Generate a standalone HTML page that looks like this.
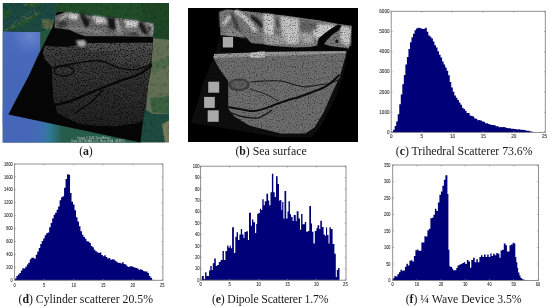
<!DOCTYPE html>
<html><head><meta charset="utf-8"><style>
html,body{margin:0;padding:0;background:#fff;}
body{width:550px;height:307px;overflow:hidden;}
svg{display:block;}
.cap{font-family:"Liberation Serif",serif;font-size:11.8px;fill:#1a1a1a;}
.tk{font-family:"Liberation Sans",sans-serif;fill:#2a2a2a;stroke:#2a2a2a;stroke-width:0.08px;}
</style></head><body>
<svg width="550" height="307" viewBox="0 0 550 307">
<defs>
  
  <filter id="spk2" x="0" y="0" width="100%" height="100%" color-interpolation-filters="sRGB">
    <feTurbulence type="fractalNoise" baseFrequency="0.83" numOctaves="2" seed="11" result="t0"/>
    <feColorMatrix in="t0" type="matrix" values="1.6 0 0 0 0.2  1.6 0 0 0 0.2  1.6 0 0 0 0.2  0 0 0 0 1" result="n"/>
    <feComposite in="SourceGraphic" in2="n" operator="arithmetic" k1="1" k2="0" k3="0" k4="0"/>
    <feGaussianBlur stdDeviation="0.5"/>
  </filter>
  <filter id="spkA" x="0" y="0" width="100%" height="100%" color-interpolation-filters="sRGB">
    <feTurbulence type="fractalNoise" baseFrequency="0.83" numOctaves="2" seed="7" result="t0"/>
    <feColorMatrix in="t0" type="matrix" values="1 0 0 0 0  1 0 0 0 0  1 0 0 0 0  0 0 0 0 1" result="t"/>
    <feComponentTransfer in="t" result="n"><feFuncR type="gamma" amplitude="3.8" exponent="2" offset="0"/><feFuncG type="gamma" amplitude="3.8" exponent="2" offset="0"/><feFuncB type="gamma" amplitude="3.8" exponent="2" offset="0"/></feComponentTransfer>
    <feComposite in="SourceGraphic" in2="n" operator="arithmetic" k1="1" k2="0" k3="0" k4="0"/>
    <feGaussianBlur stdDeviation="0.55"/>
  </filter>
  <filter id="bl1" x="-10%" y="-10%" width="120%" height="120%"><feGaussianBlur stdDeviation="0.9"/></filter>
  <linearGradient id="landA" x1="0" y1="0" x2="0" y2="1">
    <stop offset="0" stop-color="#434343"/><stop offset="0.35" stop-color="#363636"/><stop offset="1" stop-color="#232323"/>
  </linearGradient>
  <filter id="spkM" x="0" y="0" width="100%" height="100%" color-interpolation-filters="sRGB">
    <feTurbulence type="fractalNoise" baseFrequency="0.83" numOctaves="2" seed="5" result="t0"/>
    <feColorMatrix in="t0" type="matrix" values="1.6 0 0 0 0.2  1.6 0 0 0 0.2  1.6 0 0 0 0.2  0 0 0 0 1" result="n"/>
    <feComposite in="SourceGraphic" in2="n" operator="arithmetic" k1="1" k2="0" k3="0" k4="0"/>
    <feGaussianBlur stdDeviation="0.5"/>
  </filter>
  <filter id="gn" x="0" y="0" width="100%" height="100%" color-interpolation-filters="sRGB">
    <feTurbulence type="fractalNoise" baseFrequency="0.3" numOctaves="3" seed="2" result="t"/>
    <feColorMatrix in="t" type="matrix" values="0.6 0 0 0 0.7  0.6 0 0 0 0.7  0.6 0 0 0 0.7  0 0 0 0 1" result="n"/>
    <feComposite in="SourceGraphic" in2="n" operator="arithmetic" k1="1.0" k2="0" k3="0" k4="0" result="c"/>
    <feGaussianBlur in="c" stdDeviation="0.7"/>
  </filter>
  <clipPath id="ca"><rect x="2.5" y="3" width="166.5" height="139.5"/></clipPath>
  <clipPath id="cb"><rect x="188" y="8" width="170" height="134"/></clipPath>
</defs>

<!-- ============ (a) ============ -->
<g clip-path="url(#ca)">
 <g filter="url(#gn)">
  <rect x="2.5" y="3" width="167" height="140" fill="#1c4842"/>
  <!-- islands top -->
  <path d="M3 29.4 L10 27 L20 22 L30 16 L39.6 11.1 L41 13 L34 19 L24 25 L14 29 L5 31 L3 31 Z" fill="#23502d"/>
  <path d="M24.8 3 L39.6 3 L39 7.7 L30 7.5 Z" fill="#23502d"/>
  <path d="M3 12 L9 9 L12 13 L6 18 L3 18 Z" fill="#24502f"/>
  <path d="M42 20 L48 18.5 L54.5 21 L54.5 29.4 L46 29.4 L42 25 Z" fill="#4a6040"/>
  <path d="M55.6 2 L62 2 L62 13.4 L56 14 Z" fill="#214d29"/>
  <g fill="#8f8862" opacity="0.45"><circle cx="12.7" cy="25.9" r="0.74"/><circle cx="25.5" cy="17.3" r="0.83"/><circle cx="12.7" cy="27.0" r="0.69"/><circle cx="34.1" cy="14.6" r="0.56"/><circle cx="27.7" cy="18.4" r="0.80"/><circle cx="27.1" cy="18.2" r="0.74"/><circle cx="13.7" cy="25.9" r="0.69"/><circle cx="30.8" cy="17.1" r="0.87"/><circle cx="18.9" cy="23.0" r="0.87"/><circle cx="34.7" cy="12.5" r="0.59"/><circle cx="38.6" cy="12.0" r="0.62"/><circle cx="22.0" cy="20.5" r="0.73"/><circle cx="26.0" cy="19.8" r="0.87"/><circle cx="36.0" cy="14.3" r="0.57"/><circle cx="36.1" cy="14.8" r="0.73"/><circle cx="29.0" cy="17.5" r="0.73"/><circle cx="13.2" cy="26.2" r="0.90"/><circle cx="7.9" cy="29.0" r="0.56"/><circle cx="15.2" cy="26.0" r="0.52"/><circle cx="25.0" cy="19.2" r="0.63"/><circle cx="36.9" cy="13.4" r="0.90"/><circle cx="14.1" cy="25.0" r="0.51"/><circle cx="10.9" cy="27.3" r="0.56"/><circle cx="6.4" cy="29.7" r="0.88"/><circle cx="36.0" cy="13.0" r="0.71"/><circle cx="27.4" cy="18.3" r="0.75"/><circle cx="34.2" cy="10.8" r="0.79"/><circle cx="12.7" cy="24.1" r="0.71"/><circle cx="21.3" cy="17.5" r="0.73"/><circle cx="6.9" cy="27.0" r="0.52"/><circle cx="24.7" cy="16.8" r="0.64"/><circle cx="27.8" cy="13.8" r="0.52"/><circle cx="27.4" cy="14.9" r="0.68"/><circle cx="23.3" cy="16.6" r="0.63"/><circle cx="17.3" cy="20.2" r="0.65"/><circle cx="28.0" cy="14.0" r="0.79"/><circle cx="14.6" cy="22.5" r="0.60"/><circle cx="11.5" cy="24.3" r="0.54"/><circle cx="15.3" cy="22.3" r="0.68"/><circle cx="30.9" cy="12.1" r="0.76"/><circle cx="38.0" cy="3.3" r="0.55"/><circle cx="31.7" cy="4.7" r="0.84"/><circle cx="26.4" cy="4.7" r="0.76"/><circle cx="36.5" cy="3.1" r="0.62"/><circle cx="36.2" cy="3.6" r="0.67"/><circle cx="30.5" cy="5.0" r="0.56"/><circle cx="25.1" cy="4.9" r="0.89"/><circle cx="32.0" cy="5.0" r="0.59"/><circle cx="51.7" cy="28.2" r="0.83"/><circle cx="48.7" cy="22.2" r="0.67"/><circle cx="45.0" cy="19.7" r="0.79"/><circle cx="45.7" cy="27.9" r="0.52"/><circle cx="53.7" cy="26.6" r="0.96"/><circle cx="53.7" cy="28.9" r="0.79"/><circle cx="42.2" cy="27.2" r="0.59"/><circle cx="45.9" cy="26.3" r="0.76"/><circle cx="47.4" cy="29.3" r="0.81"/><circle cx="46.4" cy="21.8" r="0.93"/><circle cx="48.2" cy="27.6" r="0.68"/><circle cx="44.6" cy="24.9" r="0.91"/><circle cx="44.2" cy="27.7" r="0.96"/><circle cx="52.5" cy="28.1" r="0.50"/><circle cx="50.2" cy="28.5" r="0.52"/><circle cx="45.5" cy="22.0" r="0.76"/><circle cx="47.5" cy="24.2" r="0.89"/><circle cx="42.0" cy="19.6" r="0.56"/><circle cx="43.6" cy="19.8" r="0.99"/><circle cx="53.1" cy="19.9" r="0.75"/><circle cx="46.1" cy="22.5" r="0.68"/><circle cx="50.4" cy="25.5" r="0.68"/><circle cx="44.5" cy="22.6" r="0.56"/><circle cx="49.2" cy="26.9" r="0.69"/><circle cx="43.0" cy="21.0" r="0.69"/><circle cx="49.9" cy="27.6" r="0.69"/><circle cx="52.4" cy="25.9" r="0.72"/><circle cx="46.8" cy="24.5" r="0.85"/><circle cx="47.5" cy="26.6" r="0.73"/><circle cx="45.2" cy="24.9" r="0.85"/><circle cx="103.6" cy="7.7" r="0.57"/><circle cx="144.0" cy="13.3" r="0.55"/><circle cx="144.9" cy="11.7" r="0.50"/><circle cx="123.2" cy="4.4" r="0.73"/><circle cx="133.1" cy="12.8" r="0.72"/><circle cx="133.4" cy="11.1" r="0.63"/><circle cx="105.2" cy="9.5" r="0.40"/><circle cx="107.2" cy="11.5" r="0.42"/><circle cx="104.6" cy="4.1" r="0.75"/><circle cx="109.0" cy="3.3" r="0.74"/><circle cx="106.1" cy="12.3" r="0.67"/><circle cx="141.8" cy="13.5" r="0.63"/><circle cx="139.9" cy="3.4" r="0.71"/><circle cx="125.6" cy="10.9" r="0.44"/></g>
  <!-- top forest -->
  <polygon points="56,3 170,3 170,24 150,23 104,16 80,14 65,12 56,14" fill="#214d29"/>
  <polygon points="140,3 170,3 170,40 150,38" fill="#1d4526"/>
  <!-- right urban -->
  <polygon points="152,38 170,40 170,118 160,118 146,110" fill="#637055"/>
  <polygon points="152,62 170,56 170,66 152,72" fill="#4f6a48"/>
  <polygon points="150,98 170,96 170,114 152,112" fill="#3c6042"/>
  <!-- bottom right water -->
  <polygon points="143,114 170,114 170,143 140,143" fill="#1e4b40"/>
  <polygon points="162,124 170,120 170,143 165,143" fill="#7a7a5c"/>
 </g>
  <!-- blue water -->
  <linearGradient id="bw" x1="0" y1="0" x2="0" y2="1">
    <stop offset="0" stop-color="#4b6cbe"/><stop offset="0.5" stop-color="#4667b9"/><stop offset="1" stop-color="#4666b8"/>
  </linearGradient>
  <polygon points="2.5,31.5 20,32 40.5,32 40.5,50 36.3,58.9 29.3,75 2.5,125" fill="url(#bw)"/>
  <radialGradient id="bl" cx="30" cy="36" r="18" gradientUnits="userSpaceOnUse"><stop offset="0" stop-color="#7d97d6" stop-opacity="0.55"/><stop offset="1" stop-color="#7d97d6" stop-opacity="0"/></radialGradient>
  <polygon points="2.5,31.5 20,32 40.5,32 40.5,50 36.3,58.9 29.3,75 2.5,125" fill="url(#bl)"/>
  <linearGradient id="bs" gradientUnits="userSpaceOnUse" x1="30" y1="0" x2="62" y2="0">
    <stop offset="0" stop-color="#4666b8"/><stop offset="0.4" stop-color="#3f6fb0"/><stop offset="0.62" stop-color="#2e7a96"/><stop offset="1" stop-color="#285c4a"/>
  </linearGradient>
  <polygon points="2.5,110 20,110 60,124 141,141 141,143 2.5,143" fill="url(#bs)"/>
  <!-- green strip between blue water and quad -->
  <polygon points="40.5,32 54,28 52.6,26.9 45.2,41.6 36.7,58.7 29.3,75 36.3,58.9 40.5,50" fill="#24553f"/>
  <!-- SAR quad -->
  <polygon points="56.7,12.2 65.5,11.8 80,14 100,17 120,18 140,21 153.3,23 152.5,45 151,70 148.5,82 142.3,126 140.5,142.5 8.4,114.5 29.3,75 36.7,58.7 45.2,41.6 52.6,26.9" fill="#050505"/>
  <g filter="url(#spkM)">
    <rect x="0" y="0" width="1" height="1" fill="#000"/>
    <!-- mountains -->
    <polygon points="55,16 65.5,11.8 80,14 100,17 120,18 140,21 153.3,23 153,37 120,36.6 100,36.6 86,36.6 76,33 70,30 60,30 54.5,28" fill="#6c6c6c"/>
    <g filter="url(#bl1)">
      <polygon points="68,12.8 78.6,14 78,19.5 71,20 68,17" fill="#d0d0d0"/>
      <path d="M57.6 22.3 L67.2 13.7" stroke="#c8c8c8" stroke-width="2.2"/>
      <polygon points="92,15.6 104,17 107,23 96,24" fill="#cacaca"/>
      <path d="M117 20 L120 34" stroke="#b8b8b8" stroke-width="2.5"/>
      <polygon points="124.4,19.5 139.7,21.2 137,27 126,27.5" fill="#d4d4d4"/>
      <path d="M147 24 L153 26 L152 34" stroke="#bdbdbd" stroke-width="2"/>
      <path d="M80 14 L88 22 L86 28" stroke="#141414" stroke-width="3.2"/>
      
      <polygon points="107,17.5 115,18.5 116,30 109,29" fill="#141414"/>
      <path d="M139 22 L143 28 L146 35" stroke="#121212" stroke-width="4.5"/>
      <polygon points="56,21 64,20 68,25 60,28" fill="#383838"/>
      <path d="M70 28 L90 30 L104 33" stroke="#8e8e8e" stroke-width="2.5"/>
      <path d="M115 32 L135 31 L145 36" stroke="#888" stroke-width="2.5"/>
    </g>
  </g>
  <g filter="url(#spkA)">
    <rect x="0" y="0" width="1" height="1" fill="#000"/>
    <!-- land -->
    <polygon points="44.6,45.5 57,46.6 68.5,46.6 76.4,45 88,43 153,42.4 152.5,45 151,70 148.5,82 145.6,107.4 143,120 138,123 120,126 100,126 80,124 69.3,119.2 57.6,113.3 53.2,98.7 51.7,66.4 48,63 44,58 43,52" fill="url(#landA)"/>
    <polygon points="88,43 152.5,42.4 152.5,50 88,51" fill="#505050"/>
    <polygon points="113,50 152.5,50 151,66 113,62" fill="#454545"/>
      </g>
  <!-- inlet / rivers -->
  <polygon points="54.5,28 60,28.5 70,30 77.6,35.3 86,36.6 100,36.6 120,36.6 153,37 153,42.4 120,42.4 100,42.6 88,43 76.4,45 68.5,46.6 57,46.6 44.6,45.5 50,38" fill="#070707"/>
  <polygon filter="url(#bl1)" points="76,40.5 84,39.8 86.7,43 84,47.2 78,46" fill="#a8a8a8"/>
  <path d="M51.7 67.9 C60 66 68 64 75.2 63.5 C85 62 92 60.5 98.7 60.5 C107 62 113 66 119.2 67.9 C126 69.5 131 70 136.8 69.3 C143 68 148 66 151.4 63.5" stroke="#090909" stroke-width="1.3" fill="none"/>
  <path d="M50 106.5 C56 105 63 103 69.3 101.6 C76 99 82 96.5 87 94.3 C93 91.5 99 89 104.5 87 C110 85 115 83 119.2 81 C125 79 131 77.5 136.8 75.2 C141 73.5 145 71 148.5 67.9 C150 66.5 151 65.5 152 65" stroke="#070707" stroke-width="2.3" fill="none"/>
  <path d="M75.2 113.3 C80 110 85 106 89.9 103 C95 99 99 94 103 89.9" stroke="#080808" stroke-width="1.4" fill="none"/>
  <ellipse cx="64" cy="71" rx="10" ry="5" fill="none" stroke="#0a0a0a" stroke-width="1.3"/>
  <!-- watermark text -->
  <text x="77.6" y="138.8" font-family="Liberation Sans,sans-serif" font-size="2.8" fill="#c8c8c8" textLength="33" lengthAdjust="spacingAndGlyphs">Image © 2016 TerraMetrics</text>
  <text x="71.3" y="142.4" font-family="Liberation Sans,sans-serif" font-size="2.8" fill="#c8c8c8" textLength="53.4" lengthAdjust="spacingAndGlyphs">Data SIO, NOAA, U.S. Navy, NGA, GEBCO</text>
</g>

<!-- ============ (b) ============ -->
<g clip-path="url(#cb)">
  <rect x="188" y="8" width="170" height="134" fill="#000"/>
  <g filter="url(#spk2)">
    <rect x="188" y="8" width="1" height="1" fill="#000"/>
    <!-- SAR footprint (dark gray water) -->
    <polygon points="219.5,12.1 226.4,9.4 237.3,10.2 278.2,14.8 319,20.3 351.8,25.7 349,46 344,71.8 336,96.4 321,126 311.6,137 280,137.5 191,122.8 204.3,80 215.7,52.8 221.4,30" fill="#0e0e0e"/>
    <!-- mountains -->
    <polygon points="219.5,12.1 226.4,9.4 237.3,10.2 278.2,14.8 319,20.3 338.2,23.9 351.8,25.7 350.8,37 348.7,49.8 330,50 300,49 270,48 252,44 246.5,38 238,35.4 220.5,35.4" fill="#787878"/>
    <g filter="url(#bl1)">
      <polygon points="219.5,12 231,10.5 232,20 226,27 220,27" fill="#7a7a7a"/>
      <path d="M223.2 24.4 L230 16.2" stroke="#e0e0e0" stroke-width="2.4"/>
      <path d="M231.4 13.5 L235 22 L239.6 34" stroke="#353535" stroke-width="3.2"/>
      <path d="M235.5 10.7 L244 17 L250.6 24.4 L256 31.3" stroke="#d8d8d8" stroke-width="3.5"/>
      <path d="M251.2 16.2 L257 21 L263 27.1" stroke="#080808" stroke-width="3.2"/>
      <polygon points="263,13.5 274,15 274,35.4 264,34" fill="#c8c8c8"/>
      <path d="M276 19 L279 27" stroke="#333" stroke-width="2"/>
      <polygon points="280,16 299,19 299,44 288,44 282,35" fill="#c4c4c4"/>
      <polygon points="313,24 336,25 330,34 318,40 313,36" fill="#cccccc"/>
      <polygon points="341,26 350.8,27.4 350.5,46 342,44 340,36" fill="#c8c8c8"/>
      <polygon points="299,20.4 317,22.5 317,30.2 300,30" fill="#666"/>
      <polygon points="225,29 238,30 244,38 232,38 225,35" fill="#8a8a8a"/>
      <polygon points="262,35 284,36 288,44 266,45" fill="#9c9c9c"/>
      <polygon points="300,32 312,34 314,44 302,44" fill="#a8a8a8"/>
    </g>
    <!-- land -->
    <polygon points="212.7,56.2 230,54 250,52.8 265,51.6 280,51.4 320,51.2 346.8,49.5 345.6,56.2 339.5,77.8 333.3,90.2 324,111.8 314.7,127.3 305.5,133.5 280.7,133.5 249.8,125.7 234.4,116.5 228.2,108.7 228.2,81 219,68.5" fill="#6e6e6e"/>
    <polygon points="214,54 250,52.5 300,51.5 346,49.5 346,53 300,55 250,56.5 214,58" fill="#9a9a9a"/>
    <polygon points="250,50 265,50 265,57.7 250,57.7" fill="#bbbbbb"/>
    <ellipse cx="239" cy="84.7" rx="11" ry="6.5" fill="#444"/>
    <ellipse cx="239" cy="84.7" rx="8" ry="4" fill="#5e5e5e"/>
  </g>
  <!-- black inlet -->
  <polygon points="220,35.4 238,36.7 252,43.3 260,43.7 270,45.5 280,46.6 295,47.6 310,47 317.2,45.5 318.6,38.6 325,33 332,28 338.2,24.6 341.5,25.5 339,30 332,35 326,41 324,44 330,46 348.7,48.5 348.7,51 320,51.3 295,51.3 280,51.3 260,51.5 251,52.5 221,52" fill="#070707"/>
  <polygon points="335.4,40 338.2,40 338.2,42.8 335.4,42.8" fill="#111"/>
  <path d="M250 82 C262 81 272 80 281 81 C292 83 298 87 306 87 C315 86 322 84 327 84 C334 82 339 80 342.5 77.8" stroke="#151515" stroke-width="1.1" fill="none"/>
  <path d="M219 106 C228 107 240 109 250 111 C258 112 266 108 274 105 C282 102 290 99 296 98 C305 95 312 92 318 90 C326 87 331 83 333 81 C336 78 338 76 339.5 74.7" stroke="#0c0c0c" stroke-width="2" fill="none"/>
  <path d="M226 111 C236 115 246 119 258 118 C264 116 268 113 272 110" stroke="#101010" stroke-width="1.2" fill="none"/>
  <path d="M250 89 C262 92 270 96 278 101" stroke="#1a1a1a" stroke-width="0.9" fill="none"/>
  <rect x="222.8" y="36.9" width="10.3" height="10.6" fill="#a9a9a9"/>
  <rect x="208.2" y="81.7" width="11" height="11" fill="#a9a9a9"/>
  <rect x="204.1" y="96.9" width="10.7" height="11" fill="#a9a9a9"/>
  <rect x="207.7" y="110.3" width="11" height="11.5" fill="#a9a9a9"/>
</g>

<path d="M391.60 132.40 L391.60 131.73 L393.13 131.73 L393.13 129.83 L394.66 129.83 L394.66 126.00 L396.19 126.00 L396.19 121.60 L397.72 121.60 L397.72 114.37 L399.25 114.37 L399.25 104.26 L400.78 104.26 L400.78 94.57 L402.31 94.57 L402.31 84.35 L403.84 84.35 L403.84 74.98 L405.37 74.98 L405.37 64.60 L406.90 64.60 L406.90 57.02 L408.43 57.02 L408.43 49.00 L409.96 49.00 L409.96 42.36 L411.49 42.36 L411.49 37.23 L413.02 37.23 L413.02 33.76 L414.55 33.76 L414.55 30.16 L416.08 30.16 L416.08 28.55 L417.61 28.55 L417.61 27.77 L419.14 27.77 L419.14 28.08 L420.67 28.08 L420.67 28.51 L422.20 28.51 L422.20 28.99 L423.73 28.99 L423.73 28.83 L425.26 28.83 L425.26 27.70 L426.79 27.70 L426.79 31.81 L428.32 31.81 L428.32 35.42 L429.85 35.42 L429.85 36.74 L431.38 36.74 L431.38 38.58 L432.91 38.58 L432.91 41.42 L434.44 41.42 L434.44 45.14 L435.97 45.14 L435.97 47.44 L437.50 47.44 L437.50 51.31 L439.03 51.31 L439.03 54.79 L440.56 54.79 L440.56 57.57 L442.09 57.57 L442.09 61.41 L443.62 61.41 L443.62 64.47 L445.15 64.47 L445.15 67.38 L446.68 67.38 L446.68 70.70 L448.21 70.70 L448.21 75.18 L449.74 75.18 L449.74 82.07 L451.27 82.07 L451.27 87.38 L452.80 87.38 L452.80 91.72 L454.33 91.72 L454.33 95.48 L455.86 95.48 L455.86 97.77 L457.39 97.77 L457.39 99.88 L458.92 99.88 L458.92 102.55 L460.45 102.55 L460.45 104.71 L461.98 104.71 L461.98 107.85 L463.51 107.85 L463.51 108.90 L465.04 108.90 L465.04 110.70 L466.57 110.70 L466.57 112.96 L468.10 112.96 L468.10 113.12 L469.63 113.12 L469.63 115.54 L471.16 115.54 L471.16 116.11 L472.69 116.11 L472.69 116.61 L474.22 116.61 L474.22 118.55 L475.75 118.55 L475.75 118.78 L477.28 118.78 L477.28 120.26 L478.81 120.26 L478.81 120.02 L480.34 120.02 L480.34 120.62 L481.87 120.62 L481.87 121.55 L483.40 121.55 L483.40 121.69 L484.93 121.69 L484.93 123.20 L486.46 123.20 L486.46 123.27 L487.99 123.27 L487.99 123.92 L489.52 123.92 L489.52 124.40 L491.05 124.40 L491.05 125.00 L492.58 125.00 L492.58 125.03 L494.11 125.03 L494.11 125.31 L495.64 125.31 L495.64 126.14 L497.17 126.14 L497.17 126.28 L498.70 126.28 L498.70 127.16 L500.23 127.16 L500.23 126.88 L501.76 126.88 L501.76 127.14 L503.29 127.14 L503.29 127.08 L504.82 127.08 L504.82 127.44 L506.35 127.44 L506.35 128.04 L507.88 128.04 L507.88 128.16 L509.41 128.16 L509.41 128.17 L510.94 128.17 L510.94 128.78 L512.47 128.78 L512.47 128.70 L514.00 128.70 L514.00 129.06 L515.53 129.06 L515.53 129.26 L517.06 129.26 L517.06 129.45 L518.59 129.45 L518.59 129.28 L520.12 129.28 L520.12 129.75 L521.65 129.75 L521.65 129.87 L523.18 129.87 L523.18 130.05 L524.71 130.05 L524.71 130.13 L526.24 130.13 L526.24 130.63 L527.77 130.63 L527.77 130.80 L529.30 130.80 L529.30 131.17 L530.83 131.17 L530.83 131.52 L532.36 131.52 L532.36 132.04 L533.50 132.04 L533.50 132.40 Z" fill="#000078"/>
<rect x="391.20" y="11.30" width="154.10" height="121.10" fill="none" stroke="#858585" stroke-width="0.9"/>
<line x1="391.20" y1="132.40" x2="391.20" y2="131.00" stroke="#858585" stroke-width="0.6"/>
<line x1="391.20" y1="11.30" x2="391.20" y2="12.70" stroke="#858585" stroke-width="0.6"/>
<text x="389.93" y="138.00" class="tk" font-size="4.80" textLength="2.55" lengthAdjust="spacingAndGlyphs">0</text>
<line x1="421.86" y1="132.40" x2="421.86" y2="131.00" stroke="#858585" stroke-width="0.6"/>
<line x1="421.86" y1="11.30" x2="421.86" y2="12.70" stroke="#858585" stroke-width="0.6"/>
<text x="420.58" y="138.00" class="tk" font-size="4.80" textLength="2.55" lengthAdjust="spacingAndGlyphs">5</text>
<line x1="452.52" y1="132.40" x2="452.52" y2="131.00" stroke="#858585" stroke-width="0.6"/>
<line x1="452.52" y1="11.30" x2="452.52" y2="12.70" stroke="#858585" stroke-width="0.6"/>
<text x="449.97" y="138.00" class="tk" font-size="4.80" textLength="5.10" lengthAdjust="spacingAndGlyphs">10</text>
<line x1="483.18" y1="132.40" x2="483.18" y2="131.00" stroke="#858585" stroke-width="0.6"/>
<line x1="483.18" y1="11.30" x2="483.18" y2="12.70" stroke="#858585" stroke-width="0.6"/>
<text x="480.63" y="138.00" class="tk" font-size="4.80" textLength="5.10" lengthAdjust="spacingAndGlyphs">15</text>
<line x1="513.84" y1="132.40" x2="513.84" y2="131.00" stroke="#858585" stroke-width="0.6"/>
<line x1="513.84" y1="11.30" x2="513.84" y2="12.70" stroke="#858585" stroke-width="0.6"/>
<text x="511.29" y="138.00" class="tk" font-size="4.80" textLength="5.10" lengthAdjust="spacingAndGlyphs">20</text>
<line x1="544.50" y1="132.40" x2="544.50" y2="131.00" stroke="#858585" stroke-width="0.6"/>
<line x1="544.50" y1="11.30" x2="544.50" y2="12.70" stroke="#858585" stroke-width="0.6"/>
<text x="541.95" y="138.00" class="tk" font-size="4.80" textLength="5.10" lengthAdjust="spacingAndGlyphs">25</text>
<line x1="391.20" y1="132.40" x2="392.60" y2="132.40" stroke="#858585" stroke-width="0.6"/>
<line x1="545.30" y1="132.40" x2="543.90" y2="132.40" stroke="#858585" stroke-width="0.6"/>
<text x="386.95" y="134.00" class="tk" font-size="4.80" textLength="2.55" lengthAdjust="spacingAndGlyphs">0</text>
<line x1="391.20" y1="112.22" x2="392.60" y2="112.22" stroke="#858585" stroke-width="0.6"/>
<line x1="545.30" y1="112.22" x2="543.90" y2="112.22" stroke="#858585" stroke-width="0.6"/>
<text x="379.30" y="113.82" class="tk" font-size="4.80" textLength="10.20" lengthAdjust="spacingAndGlyphs">1000</text>
<line x1="391.20" y1="92.03" x2="392.60" y2="92.03" stroke="#858585" stroke-width="0.6"/>
<line x1="545.30" y1="92.03" x2="543.90" y2="92.03" stroke="#858585" stroke-width="0.6"/>
<text x="379.30" y="93.63" class="tk" font-size="4.80" textLength="10.20" lengthAdjust="spacingAndGlyphs">2000</text>
<line x1="391.20" y1="71.85" x2="392.60" y2="71.85" stroke="#858585" stroke-width="0.6"/>
<line x1="545.30" y1="71.85" x2="543.90" y2="71.85" stroke="#858585" stroke-width="0.6"/>
<text x="379.30" y="73.45" class="tk" font-size="4.80" textLength="10.20" lengthAdjust="spacingAndGlyphs">3000</text>
<line x1="391.20" y1="51.67" x2="392.60" y2="51.67" stroke="#858585" stroke-width="0.6"/>
<line x1="545.30" y1="51.67" x2="543.90" y2="51.67" stroke="#858585" stroke-width="0.6"/>
<text x="379.30" y="53.27" class="tk" font-size="4.80" textLength="10.20" lengthAdjust="spacingAndGlyphs">4000</text>
<line x1="391.20" y1="31.48" x2="392.60" y2="31.48" stroke="#858585" stroke-width="0.6"/>
<line x1="545.30" y1="31.48" x2="543.90" y2="31.48" stroke="#858585" stroke-width="0.6"/>
<text x="379.30" y="33.08" class="tk" font-size="4.80" textLength="10.20" lengthAdjust="spacingAndGlyphs">5000</text>
<line x1="391.20" y1="11.30" x2="392.60" y2="11.30" stroke="#858585" stroke-width="0.6"/>
<line x1="545.30" y1="11.30" x2="543.90" y2="11.30" stroke="#858585" stroke-width="0.6"/>
<text x="379.30" y="12.90" class="tk" font-size="4.80" textLength="10.20" lengthAdjust="spacingAndGlyphs">6000</text>
<path d="M14.90 280.30 L14.90 278.38 L16.39 278.38 L16.39 276.06 L17.88 276.06 L17.88 274.40 L19.37 274.40 L19.37 273.04 L20.86 273.04 L20.86 270.44 L22.35 270.44 L22.35 268.37 L23.84 268.37 L23.84 268.51 L25.33 268.51 L25.33 266.63 L26.82 266.63 L26.82 264.61 L28.31 264.61 L28.31 262.72 L29.80 262.72 L29.80 259.32 L31.29 259.32 L31.29 257.71 L32.78 257.71 L32.78 257.80 L34.27 257.80 L34.27 258.72 L35.76 258.72 L35.76 254.75 L37.25 254.75 L37.25 251.59 L38.74 251.59 L38.74 248.10 L40.23 248.10 L40.23 243.96 L41.72 243.96 L41.72 241.10 L43.21 241.10 L43.21 238.39 L44.70 238.39 L44.70 235.22 L46.19 235.22 L46.19 233.36 L47.68 233.36 L47.68 232.42 L49.17 232.42 L49.17 227.20 L50.66 227.20 L50.66 223.01 L52.15 223.01 L52.15 218.41 L53.64 218.41 L53.64 214.83 L55.13 214.83 L55.13 212.71 L56.62 212.71 L56.62 209.78 L58.11 209.78 L58.11 206.55 L59.60 206.55 L59.60 200.30 L61.09 200.30 L61.09 197.22 L62.58 197.22 L62.58 196.32 L64.07 196.32 L64.07 187.73 L65.56 187.73 L65.56 179.05 L67.05 179.05 L67.05 174.18 L68.54 174.18 L68.54 174.87 L70.03 174.87 L70.03 193.05 L71.52 193.05 L71.52 201.84 L73.01 201.84 L73.01 204.45 L74.50 204.45 L74.50 210.37 L75.99 210.37 L75.99 217.21 L77.48 217.21 L77.48 221.47 L78.97 221.47 L78.97 226.17 L80.46 226.17 L80.46 231.16 L81.95 231.16 L81.95 234.71 L83.44 234.71 L83.44 236.99 L84.93 236.99 L84.93 238.80 L86.42 238.80 L86.42 241.24 L87.91 241.24 L87.91 241.45 L89.40 241.45 L89.40 243.08 L90.89 243.08 L90.89 245.92 L92.38 245.92 L92.38 247.36 L93.87 247.36 L93.87 249.81 L95.36 249.81 L95.36 251.26 L96.85 251.26 L96.85 252.17 L98.34 252.17 L98.34 253.09 L99.83 253.09 L99.83 252.46 L101.32 252.46 L101.32 254.89 L102.81 254.89 L102.81 256.35 L104.30 256.35 L104.30 255.25 L105.79 255.25 L105.79 257.09 L107.28 257.09 L107.28 258.51 L108.77 258.51 L108.77 258.08 L110.26 258.08 L110.26 259.83 L111.75 259.83 L111.75 259.37 L113.24 259.37 L113.24 259.38 L114.73 259.38 L114.73 260.74 L116.22 260.74 L116.22 261.66 L117.71 261.66 L117.71 262.91 L119.20 262.91 L119.20 262.87 L120.69 262.87 L120.69 263.55 L122.18 263.55 L122.18 262.31 L123.67 262.31 L123.67 263.90 L125.16 263.90 L125.16 264.51 L126.65 264.51 L126.65 266.29 L128.14 266.29 L128.14 267.05 L129.63 267.05 L129.63 266.16 L131.12 266.16 L131.12 266.25 L132.61 266.25 L132.61 267.03 L134.10 267.03 L134.10 267.58 L135.59 267.58 L135.59 267.99 L137.08 267.99 L137.08 268.40 L138.57 268.40 L138.57 269.82 L140.06 269.82 L140.06 269.31 L141.55 269.31 L141.55 269.89 L143.04 269.89 L143.04 271.09 L144.53 271.09 L144.53 271.57 L146.02 271.57 L146.02 271.45 L147.51 271.45 L147.51 272.91 L149.00 272.91 L149.00 276.07 L150.49 276.07 L150.49 277.77 L151.98 277.77 L151.98 279.71 L153.47 279.71 L153.47 280.20 L153.90 280.20 L153.90 280.30 Z" fill="#000078"/>
<rect x="14.60" y="164.00" width="148.30" height="116.30" fill="none" stroke="#858585" stroke-width="0.9"/>
<line x1="14.60" y1="280.30" x2="14.60" y2="278.90" stroke="#858585" stroke-width="0.6"/>
<line x1="14.60" y1="164.00" x2="14.60" y2="165.40" stroke="#858585" stroke-width="0.6"/>
<text x="13.50" y="286.60" class="tk" font-size="4.50" textLength="2.20" lengthAdjust="spacingAndGlyphs">0</text>
<line x1="44.14" y1="280.30" x2="44.14" y2="278.90" stroke="#858585" stroke-width="0.6"/>
<line x1="44.14" y1="164.00" x2="44.14" y2="165.40" stroke="#858585" stroke-width="0.6"/>
<text x="43.04" y="286.60" class="tk" font-size="4.50" textLength="2.20" lengthAdjust="spacingAndGlyphs">5</text>
<line x1="73.68" y1="280.30" x2="73.68" y2="278.90" stroke="#858585" stroke-width="0.6"/>
<line x1="73.68" y1="164.00" x2="73.68" y2="165.40" stroke="#858585" stroke-width="0.6"/>
<text x="71.48" y="286.60" class="tk" font-size="4.50" textLength="4.40" lengthAdjust="spacingAndGlyphs">10</text>
<line x1="103.22" y1="280.30" x2="103.22" y2="278.90" stroke="#858585" stroke-width="0.6"/>
<line x1="103.22" y1="164.00" x2="103.22" y2="165.40" stroke="#858585" stroke-width="0.6"/>
<text x="101.02" y="286.60" class="tk" font-size="4.50" textLength="4.40" lengthAdjust="spacingAndGlyphs">15</text>
<line x1="132.76" y1="280.30" x2="132.76" y2="278.90" stroke="#858585" stroke-width="0.6"/>
<line x1="132.76" y1="164.00" x2="132.76" y2="165.40" stroke="#858585" stroke-width="0.6"/>
<text x="130.56" y="286.60" class="tk" font-size="4.50" textLength="4.40" lengthAdjust="spacingAndGlyphs">20</text>
<line x1="162.30" y1="280.30" x2="162.30" y2="278.90" stroke="#858585" stroke-width="0.6"/>
<line x1="162.30" y1="164.00" x2="162.30" y2="165.40" stroke="#858585" stroke-width="0.6"/>
<text x="160.10" y="286.60" class="tk" font-size="4.50" textLength="4.40" lengthAdjust="spacingAndGlyphs">25</text>
<line x1="14.60" y1="280.30" x2="16.00" y2="280.30" stroke="#858585" stroke-width="0.6"/>
<line x1="162.90" y1="280.30" x2="161.50" y2="280.30" stroke="#858585" stroke-width="0.6"/>
<text x="10.60" y="281.90" class="tk" font-size="4.50" textLength="2.20" lengthAdjust="spacingAndGlyphs">0</text>
<line x1="14.60" y1="267.38" x2="16.00" y2="267.38" stroke="#858585" stroke-width="0.6"/>
<line x1="162.90" y1="267.38" x2="161.50" y2="267.38" stroke="#858585" stroke-width="0.6"/>
<text x="6.20" y="268.98" class="tk" font-size="4.50" textLength="6.60" lengthAdjust="spacingAndGlyphs">200</text>
<line x1="14.60" y1="254.46" x2="16.00" y2="254.46" stroke="#858585" stroke-width="0.6"/>
<line x1="162.90" y1="254.46" x2="161.50" y2="254.46" stroke="#858585" stroke-width="0.6"/>
<text x="6.20" y="256.06" class="tk" font-size="4.50" textLength="6.60" lengthAdjust="spacingAndGlyphs">400</text>
<line x1="14.60" y1="241.53" x2="16.00" y2="241.53" stroke="#858585" stroke-width="0.6"/>
<line x1="162.90" y1="241.53" x2="161.50" y2="241.53" stroke="#858585" stroke-width="0.6"/>
<text x="6.20" y="243.13" class="tk" font-size="4.50" textLength="6.60" lengthAdjust="spacingAndGlyphs">600</text>
<line x1="14.60" y1="228.61" x2="16.00" y2="228.61" stroke="#858585" stroke-width="0.6"/>
<line x1="162.90" y1="228.61" x2="161.50" y2="228.61" stroke="#858585" stroke-width="0.6"/>
<text x="6.20" y="230.21" class="tk" font-size="4.50" textLength="6.60" lengthAdjust="spacingAndGlyphs">800</text>
<line x1="14.60" y1="215.69" x2="16.00" y2="215.69" stroke="#858585" stroke-width="0.6"/>
<line x1="162.90" y1="215.69" x2="161.50" y2="215.69" stroke="#858585" stroke-width="0.6"/>
<text x="4.00" y="217.29" class="tk" font-size="4.50" textLength="8.80" lengthAdjust="spacingAndGlyphs">1000</text>
<line x1="14.60" y1="202.77" x2="16.00" y2="202.77" stroke="#858585" stroke-width="0.6"/>
<line x1="162.90" y1="202.77" x2="161.50" y2="202.77" stroke="#858585" stroke-width="0.6"/>
<text x="4.00" y="204.37" class="tk" font-size="4.50" textLength="8.80" lengthAdjust="spacingAndGlyphs">1200</text>
<line x1="14.60" y1="189.84" x2="16.00" y2="189.84" stroke="#858585" stroke-width="0.6"/>
<line x1="162.90" y1="189.84" x2="161.50" y2="189.84" stroke="#858585" stroke-width="0.6"/>
<text x="4.00" y="191.44" class="tk" font-size="4.50" textLength="8.80" lengthAdjust="spacingAndGlyphs">1400</text>
<line x1="14.60" y1="176.92" x2="16.00" y2="176.92" stroke="#858585" stroke-width="0.6"/>
<line x1="162.90" y1="176.92" x2="161.50" y2="176.92" stroke="#858585" stroke-width="0.6"/>
<text x="4.00" y="178.52" class="tk" font-size="4.50" textLength="8.80" lengthAdjust="spacingAndGlyphs">1600</text>
<line x1="14.60" y1="164.00" x2="16.00" y2="164.00" stroke="#858585" stroke-width="0.6"/>
<line x1="162.90" y1="164.00" x2="161.50" y2="164.00" stroke="#858585" stroke-width="0.6"/>
<text x="4.00" y="165.60" class="tk" font-size="4.50" textLength="8.80" lengthAdjust="spacingAndGlyphs">1800</text>
<path d="M201.80 280.20 L201.80 275.90 L203.80 275.90 L203.80 279.00 L205.10 279.00 L205.10 272.20 L206.50 272.20 L206.50 275.90 L209.00 275.90 L209.00 270.40 L210.30 270.40 L210.30 266.00 L211.70 266.00 L211.70 270.10 L212.80 270.10 L212.80 263.30 L214.20 263.30 L214.20 258.50 L215.80 258.50 L215.80 266.00 L217.20 266.00 L217.20 265.00 L218.80 265.00 L218.80 261.90 L220.60 261.90 L220.60 259.90 L222.50 259.90 L222.50 251.00 L223.90 251.00 L223.90 259.90 L225.40 259.90 L225.40 251.00 L227.10 251.00 L227.10 245.60 L228.40 245.60 L228.40 247.50 L229.80 247.50 L229.80 245.60 L230.80 245.60 L230.80 248.30 L232.10 248.30 L232.10 227.30 L233.90 227.30 L233.90 253.10 L235.30 253.10 L235.30 236.70 L236.60 236.70 L236.60 232.30 L238.00 232.30 L238.00 240.10 L239.40 240.10 L239.40 234.60 L240.80 234.60 L240.80 229.10 L242.10 229.10 L242.10 234.60 L243.50 234.60 L243.50 238.00 L244.50 238.00 L244.50 231.90 L246.20 231.90 L246.20 231.20 L247.90 231.20 L247.90 240.10 L249.00 240.10 L249.00 212.70 L250.90 212.70 L250.90 225.70 L252.00 225.70 L252.00 219.50 L253.40 219.50 L253.40 222.30 L255.00 222.30 L255.00 232.90 L256.20 232.90 L256.20 224.00 L257.20 224.00 L257.20 213.70 L258.60 213.70 L258.60 212.90 L259.90 212.90 L259.90 208.80 L261.10 208.80 L261.10 210.00 L262.30 210.00 L262.30 199.20 L263.70 199.20 L263.70 205.30 L264.80 205.30 L264.80 201.20 L266.40 201.20 L266.40 193.70 L268.10 193.70 L268.10 200.50 L269.20 200.50 L269.20 205.30 L270.50 205.30 L270.50 192.30 L271.90 192.30 L271.90 173.70 L273.30 173.70 L273.30 192.30 L274.70 192.30 L274.70 197.10 L276.00 197.10 L276.00 176.20 L277.60 176.20 L277.60 184.10 L279.00 184.10 L279.00 200.50 L280.30 200.50 L280.30 199.90 L281.40 199.90 L281.40 210.10 L282.20 210.10 L282.20 201.90 L283.40 201.90 L283.40 218.40 L284.50 218.40 L284.50 191.00 L286.20 191.00 L286.20 218.40 L287.50 218.40 L287.50 211.50 L288.50 211.50 L288.50 201.20 L289.90 201.20 L289.90 214.20 L291.00 214.20 L291.00 217.00 L292.60 217.00 L292.60 221.00 L293.70 221.00 L293.70 214.90 L295.80 214.90 L295.80 221.00 L296.70 221.00 L296.70 211.20 L298.50 211.20 L298.50 218.40 L300.00 218.40 L300.00 229.70 L301.10 229.70 L301.10 213.90 L302.50 213.90 L302.50 224.20 L304.80 224.20 L304.80 222.10 L306.20 222.10 L306.20 231.70 L307.90 231.70 L307.90 231.00 L309.30 231.00 L309.30 206.10 L311.00 206.10 L311.00 223.50 L312.00 223.50 L312.00 231.70 L313.40 231.70 L313.40 243.40 L314.80 243.40 L314.80 231.00 L316.40 231.00 L316.40 228.30 L317.50 228.30 L317.50 225.30 L319.20 225.30 L319.20 229.00 L320.30 229.00 L320.30 220.80 L321.90 220.80 L321.90 226.90 L323.60 226.90 L323.60 234.50 L324.90 234.50 L324.90 235.80 L326.00 235.80 L326.00 227.60 L327.10 227.60 L327.10 235.10 L328.50 235.10 L328.50 243.40 L329.50 243.40 L329.50 227.20 L330.80 227.20 L330.80 229.00 L332.60 229.00 L332.60 244.10 L334.40 244.10 L334.40 253.70 L335.80 253.70 L335.80 277.00 L336.80 277.00 L336.80 270.10 L338.10 270.10 L338.10 268.00 L339.50 268.00 L339.50 280.20 Z" fill="#000078"/>
<rect x="200.60" y="166.20" width="145.40" height="114.00" fill="none" stroke="#858585" stroke-width="0.9"/>
<line x1="200.60" y1="280.20" x2="200.60" y2="278.80" stroke="#858585" stroke-width="0.6"/>
<line x1="200.60" y1="166.20" x2="200.60" y2="167.60" stroke="#858585" stroke-width="0.6"/>
<text x="199.45" y="285.70" class="tk" font-size="4.50" textLength="2.30" lengthAdjust="spacingAndGlyphs">0</text>
<line x1="229.56" y1="280.20" x2="229.56" y2="278.80" stroke="#858585" stroke-width="0.6"/>
<line x1="229.56" y1="166.20" x2="229.56" y2="167.60" stroke="#858585" stroke-width="0.6"/>
<text x="228.41" y="285.70" class="tk" font-size="4.50" textLength="2.30" lengthAdjust="spacingAndGlyphs">5</text>
<line x1="258.52" y1="280.20" x2="258.52" y2="278.80" stroke="#858585" stroke-width="0.6"/>
<line x1="258.52" y1="166.20" x2="258.52" y2="167.60" stroke="#858585" stroke-width="0.6"/>
<text x="256.22" y="285.70" class="tk" font-size="4.50" textLength="4.60" lengthAdjust="spacingAndGlyphs">10</text>
<line x1="287.48" y1="280.20" x2="287.48" y2="278.80" stroke="#858585" stroke-width="0.6"/>
<line x1="287.48" y1="166.20" x2="287.48" y2="167.60" stroke="#858585" stroke-width="0.6"/>
<text x="285.18" y="285.70" class="tk" font-size="4.50" textLength="4.60" lengthAdjust="spacingAndGlyphs">15</text>
<line x1="316.44" y1="280.20" x2="316.44" y2="278.80" stroke="#858585" stroke-width="0.6"/>
<line x1="316.44" y1="166.20" x2="316.44" y2="167.60" stroke="#858585" stroke-width="0.6"/>
<text x="314.14" y="285.70" class="tk" font-size="4.50" textLength="4.60" lengthAdjust="spacingAndGlyphs">20</text>
<line x1="345.40" y1="280.20" x2="345.40" y2="278.80" stroke="#858585" stroke-width="0.6"/>
<line x1="345.40" y1="166.20" x2="345.40" y2="167.60" stroke="#858585" stroke-width="0.6"/>
<text x="343.10" y="285.70" class="tk" font-size="4.50" textLength="4.60" lengthAdjust="spacingAndGlyphs">25</text>
<line x1="200.60" y1="280.20" x2="202.00" y2="280.20" stroke="#858585" stroke-width="0.6"/>
<line x1="346.00" y1="280.20" x2="344.60" y2="280.20" stroke="#858585" stroke-width="0.6"/>
<text x="197.30" y="281.80" class="tk" font-size="4.50" textLength="2.30" lengthAdjust="spacingAndGlyphs">0</text>
<line x1="200.60" y1="268.80" x2="202.00" y2="268.80" stroke="#858585" stroke-width="0.6"/>
<line x1="346.00" y1="268.80" x2="344.60" y2="268.80" stroke="#858585" stroke-width="0.6"/>
<text x="195.00" y="270.40" class="tk" font-size="4.50" textLength="4.60" lengthAdjust="spacingAndGlyphs">10</text>
<line x1="200.60" y1="257.40" x2="202.00" y2="257.40" stroke="#858585" stroke-width="0.6"/>
<line x1="346.00" y1="257.40" x2="344.60" y2="257.40" stroke="#858585" stroke-width="0.6"/>
<text x="195.00" y="259.00" class="tk" font-size="4.50" textLength="4.60" lengthAdjust="spacingAndGlyphs">20</text>
<line x1="200.60" y1="246.00" x2="202.00" y2="246.00" stroke="#858585" stroke-width="0.6"/>
<line x1="346.00" y1="246.00" x2="344.60" y2="246.00" stroke="#858585" stroke-width="0.6"/>
<text x="195.00" y="247.60" class="tk" font-size="4.50" textLength="4.60" lengthAdjust="spacingAndGlyphs">30</text>
<line x1="200.60" y1="234.60" x2="202.00" y2="234.60" stroke="#858585" stroke-width="0.6"/>
<line x1="346.00" y1="234.60" x2="344.60" y2="234.60" stroke="#858585" stroke-width="0.6"/>
<text x="195.00" y="236.20" class="tk" font-size="4.50" textLength="4.60" lengthAdjust="spacingAndGlyphs">40</text>
<line x1="200.60" y1="223.20" x2="202.00" y2="223.20" stroke="#858585" stroke-width="0.6"/>
<line x1="346.00" y1="223.20" x2="344.60" y2="223.20" stroke="#858585" stroke-width="0.6"/>
<text x="195.00" y="224.80" class="tk" font-size="4.50" textLength="4.60" lengthAdjust="spacingAndGlyphs">50</text>
<line x1="200.60" y1="211.80" x2="202.00" y2="211.80" stroke="#858585" stroke-width="0.6"/>
<line x1="346.00" y1="211.80" x2="344.60" y2="211.80" stroke="#858585" stroke-width="0.6"/>
<text x="195.00" y="213.40" class="tk" font-size="4.50" textLength="4.60" lengthAdjust="spacingAndGlyphs">60</text>
<line x1="200.60" y1="200.40" x2="202.00" y2="200.40" stroke="#858585" stroke-width="0.6"/>
<line x1="346.00" y1="200.40" x2="344.60" y2="200.40" stroke="#858585" stroke-width="0.6"/>
<text x="195.00" y="202.00" class="tk" font-size="4.50" textLength="4.60" lengthAdjust="spacingAndGlyphs">70</text>
<line x1="200.60" y1="189.00" x2="202.00" y2="189.00" stroke="#858585" stroke-width="0.6"/>
<line x1="346.00" y1="189.00" x2="344.60" y2="189.00" stroke="#858585" stroke-width="0.6"/>
<text x="195.00" y="190.60" class="tk" font-size="4.50" textLength="4.60" lengthAdjust="spacingAndGlyphs">80</text>
<line x1="200.60" y1="177.60" x2="202.00" y2="177.60" stroke="#858585" stroke-width="0.6"/>
<line x1="346.00" y1="177.60" x2="344.60" y2="177.60" stroke="#858585" stroke-width="0.6"/>
<text x="195.00" y="179.20" class="tk" font-size="4.50" textLength="4.60" lengthAdjust="spacingAndGlyphs">90</text>
<line x1="200.60" y1="166.20" x2="202.00" y2="166.20" stroke="#858585" stroke-width="0.6"/>
<line x1="346.00" y1="166.20" x2="344.60" y2="166.20" stroke="#858585" stroke-width="0.6"/>
<text x="192.70" y="167.80" class="tk" font-size="4.50" textLength="6.90" lengthAdjust="spacingAndGlyphs">100</text>
<path d="M392.90 280.50 L392.90 278.15 L394.40 278.15 L394.40 275.93 L395.90 275.93 L395.90 276.45 L397.40 276.45 L397.40 274.15 L398.90 274.15 L398.90 272.35 L400.40 272.35 L400.40 269.79 L401.90 269.79 L401.90 270.67 L403.40 270.67 L403.40 270.49 L404.90 270.49 L404.90 266.78 L406.40 266.78 L406.40 263.63 L407.90 263.63 L407.90 265.40 L409.40 265.40 L409.40 260.82 L410.90 260.82 L410.90 260.32 L412.40 260.32 L412.40 261.53 L413.90 261.53 L413.90 255.90 L415.40 255.90 L415.40 250.23 L416.90 250.23 L416.90 249.45 L418.40 249.45 L418.40 250.70 L419.90 250.70 L419.90 250.68 L421.40 250.68 L421.40 242.50 L422.90 242.50 L422.90 242.40 L424.40 242.40 L424.40 236.19 L425.90 236.19 L425.90 236.52 L427.40 236.52 L427.40 230.22 L428.90 230.22 L428.90 228.65 L430.40 228.65 L430.40 218.28 L431.90 218.28 L431.90 217.73 L433.40 217.73 L433.40 214.75 L434.90 214.75 L434.90 208.65 L436.40 208.65 L436.40 210.95 L437.90 210.95 L437.90 202.56 L439.40 202.56 L439.40 194.85 L440.90 194.85 L440.90 191.60 L442.40 191.60 L442.40 185.63 L443.90 185.63 L443.90 179.87 L445.40 179.87 L445.40 175.20 L446.90 175.20 L446.90 175.20 L447.40 175.20 L447.40 194.00 L448.40 194.00 L448.40 249.80 L449.40 249.80 L449.40 266.30 L450.50 266.30 L450.50 267.00 L452.00 267.00 L452.00 268.50 L453.10 268.50 L453.10 270.20 L456.30 270.20 L456.30 268.00 L457.50 268.00 L457.50 265.50 L459.00 265.50 L459.00 264.70 L460.60 264.70 L460.60 263.90 L462.20 263.90 L462.20 263.10 L463.80 263.10 L463.80 262.30 L465.30 262.30 L465.30 263.90 L466.90 263.90 L466.90 260.00 L468.40 260.00 L468.40 261.60 L470.00 261.60 L470.00 267.80 L471.30 267.80 L471.30 260.00 L473.10 260.00 L473.10 257.70 L474.70 257.70 L474.70 262.30 L476.30 262.30 L476.30 259.20 L477.80 259.20 L477.80 262.30 L479.40 262.30 L479.40 256.90 L481.00 256.90 L481.00 255.30 L482.50 255.30 L482.50 256.90 L484.00 256.90 L484.00 254.50 L485.60 254.50 L485.60 256.90 L487.20 256.90 L487.20 254.50 L488.70 254.50 L488.70 256.90 L490.30 256.90 L490.30 253.60 L491.60 253.60 L491.60 256.10 L493.10 256.10 L493.10 253.80 L494.70 253.80 L494.70 255.30 L496.30 255.30 L496.30 253.00 L497.80 253.00 L497.80 253.80 L499.40 253.80 L499.40 257.70 L500.60 257.70 L500.60 250.60 L502.20 250.60 L502.20 249.80 L503.80 249.80 L503.80 243.60 L505.60 243.60 L505.60 245.20 L506.90 245.20 L506.90 251.40 L509.50 251.40 L509.50 245.20 L511.10 245.20 L511.10 244.40 L512.70 244.40 L512.70 242.80 L514.20 242.80 L514.20 243.60 L515.30 243.60 L515.30 256.90 L516.30 256.90 L516.30 262.30 L517.30 262.30 L517.30 267.80 L518.10 267.80 L518.10 272.50 L519.40 272.50 L519.40 275.60 L520.50 275.60 L520.50 278.00 L522.00 278.00 L522.00 279.20 L523.60 279.20 L523.60 279.80 L525.20 279.80 L525.20 280.50 Z" fill="#000078"/>
<rect x="392.70" y="165.00" width="145.80" height="115.50" fill="none" stroke="#858585" stroke-width="0.9"/>
<line x1="392.70" y1="280.50" x2="392.70" y2="279.10" stroke="#858585" stroke-width="0.6"/>
<line x1="392.70" y1="165.00" x2="392.70" y2="166.40" stroke="#858585" stroke-width="0.6"/>
<text x="391.62" y="286.10" class="tk" font-size="4.50" textLength="2.15" lengthAdjust="spacingAndGlyphs">0</text>
<line x1="416.90" y1="280.50" x2="416.90" y2="279.10" stroke="#858585" stroke-width="0.6"/>
<line x1="416.90" y1="165.00" x2="416.90" y2="166.40" stroke="#858585" stroke-width="0.6"/>
<text x="414.75" y="286.10" class="tk" font-size="4.50" textLength="4.30" lengthAdjust="spacingAndGlyphs">10</text>
<line x1="441.10" y1="280.50" x2="441.10" y2="279.10" stroke="#858585" stroke-width="0.6"/>
<line x1="441.10" y1="165.00" x2="441.10" y2="166.40" stroke="#858585" stroke-width="0.6"/>
<text x="438.95" y="286.10" class="tk" font-size="4.50" textLength="4.30" lengthAdjust="spacingAndGlyphs">20</text>
<line x1="465.30" y1="280.50" x2="465.30" y2="279.10" stroke="#858585" stroke-width="0.6"/>
<line x1="465.30" y1="165.00" x2="465.30" y2="166.40" stroke="#858585" stroke-width="0.6"/>
<text x="463.15" y="286.10" class="tk" font-size="4.50" textLength="4.30" lengthAdjust="spacingAndGlyphs">30</text>
<line x1="489.50" y1="280.50" x2="489.50" y2="279.10" stroke="#858585" stroke-width="0.6"/>
<line x1="489.50" y1="165.00" x2="489.50" y2="166.40" stroke="#858585" stroke-width="0.6"/>
<text x="487.35" y="286.10" class="tk" font-size="4.50" textLength="4.30" lengthAdjust="spacingAndGlyphs">40</text>
<line x1="513.70" y1="280.50" x2="513.70" y2="279.10" stroke="#858585" stroke-width="0.6"/>
<line x1="513.70" y1="165.00" x2="513.70" y2="166.40" stroke="#858585" stroke-width="0.6"/>
<text x="511.55" y="286.10" class="tk" font-size="4.50" textLength="4.30" lengthAdjust="spacingAndGlyphs">50</text>
<line x1="537.90" y1="280.50" x2="537.90" y2="279.10" stroke="#858585" stroke-width="0.6"/>
<line x1="537.90" y1="165.00" x2="537.90" y2="166.40" stroke="#858585" stroke-width="0.6"/>
<text x="535.75" y="286.10" class="tk" font-size="4.50" textLength="4.30" lengthAdjust="spacingAndGlyphs">60</text>
<line x1="392.70" y1="280.50" x2="394.10" y2="280.50" stroke="#858585" stroke-width="0.6"/>
<line x1="538.50" y1="280.50" x2="537.10" y2="280.50" stroke="#858585" stroke-width="0.6"/>
<text x="388.35" y="282.10" class="tk" font-size="4.50" textLength="2.15" lengthAdjust="spacingAndGlyphs">0</text>
<line x1="392.70" y1="264.00" x2="394.10" y2="264.00" stroke="#858585" stroke-width="0.6"/>
<line x1="538.50" y1="264.00" x2="537.10" y2="264.00" stroke="#858585" stroke-width="0.6"/>
<text x="386.20" y="265.60" class="tk" font-size="4.50" textLength="4.30" lengthAdjust="spacingAndGlyphs">50</text>
<line x1="392.70" y1="247.50" x2="394.10" y2="247.50" stroke="#858585" stroke-width="0.6"/>
<line x1="538.50" y1="247.50" x2="537.10" y2="247.50" stroke="#858585" stroke-width="0.6"/>
<text x="384.05" y="249.10" class="tk" font-size="4.50" textLength="6.45" lengthAdjust="spacingAndGlyphs">100</text>
<line x1="392.70" y1="231.00" x2="394.10" y2="231.00" stroke="#858585" stroke-width="0.6"/>
<line x1="538.50" y1="231.00" x2="537.10" y2="231.00" stroke="#858585" stroke-width="0.6"/>
<text x="384.05" y="232.60" class="tk" font-size="4.50" textLength="6.45" lengthAdjust="spacingAndGlyphs">150</text>
<line x1="392.70" y1="214.50" x2="394.10" y2="214.50" stroke="#858585" stroke-width="0.6"/>
<line x1="538.50" y1="214.50" x2="537.10" y2="214.50" stroke="#858585" stroke-width="0.6"/>
<text x="384.05" y="216.10" class="tk" font-size="4.50" textLength="6.45" lengthAdjust="spacingAndGlyphs">200</text>
<line x1="392.70" y1="198.00" x2="394.10" y2="198.00" stroke="#858585" stroke-width="0.6"/>
<line x1="538.50" y1="198.00" x2="537.10" y2="198.00" stroke="#858585" stroke-width="0.6"/>
<text x="384.05" y="199.60" class="tk" font-size="4.50" textLength="6.45" lengthAdjust="spacingAndGlyphs">250</text>
<line x1="392.70" y1="181.50" x2="394.10" y2="181.50" stroke="#858585" stroke-width="0.6"/>
<line x1="538.50" y1="181.50" x2="537.10" y2="181.50" stroke="#858585" stroke-width="0.6"/>
<text x="384.05" y="183.10" class="tk" font-size="4.50" textLength="6.45" lengthAdjust="spacingAndGlyphs">300</text>
<line x1="392.70" y1="165.00" x2="394.10" y2="165.00" stroke="#858585" stroke-width="0.6"/>
<line x1="538.50" y1="165.00" x2="537.10" y2="165.00" stroke="#858585" stroke-width="0.6"/>
<text x="384.05" y="166.60" class="tk" font-size="4.50" textLength="6.45" lengthAdjust="spacingAndGlyphs">350</text>
<text class="cap" x="79.3" y="155.1" textLength="13.4" lengthAdjust="spacing">(<tspan font-weight="bold">a</tspan>)</text>
<text class="cap" x="235.4" y="155.1" textLength="71.3" lengthAdjust="spacing">(<tspan font-weight="bold">b</tspan>) Sea surface</text>
<text class="cap" x="395.8" y="155.1" textLength="136.7" lengthAdjust="spacing">(<tspan font-weight="bold">c</tspan>) Trihedral Scatterer 73.6%</text>
<text class="cap" x="18.5" y="302.9" textLength="134.5" lengthAdjust="spacing">(<tspan font-weight="bold">d</tspan>) Cylinder scatterer 20.5%</text>
<text class="cap" x="212.0" y="302.9" textLength="116.5" lengthAdjust="spacing">(<tspan font-weight="bold">e</tspan>) Dipole Scatterer 1.7%</text>
<text class="cap" x="405.7" y="302.9" textLength="116.0" lengthAdjust="spacing">(<tspan font-weight="bold">f</tspan>) &#188; Wave Device 3.5%</text>
</svg>
</body></html>
